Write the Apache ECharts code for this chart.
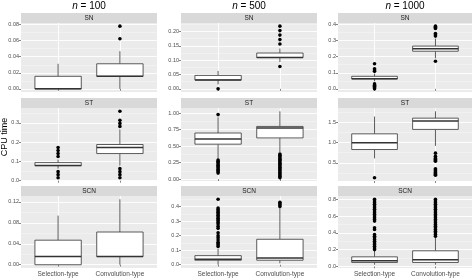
<!DOCTYPE html>
<html>
<head>
<meta charset="utf-8">
<script src="https://cdn.jsdelivr.net/npm/echarts@6/dist/echarts.min.js"></script>
<style>
  html, body { margin: 0; padding: 0; background: #fff; }
  #chart { width: 474px; height: 278px; }
</style>
</head>
<body>
<div id="chart"></div>
<script>
var methods = ['Selection-type', 'Convolution-type'];
var sizes = ['100', '500', '1000'];
var models = ['SN', 'ST', 'SCN'];

// box stats per panel: [min, q1, median, q3, max] for selection, convolution
var sn100Box = [[0, 0, 0, 0.015625, 0.03125], [0, 0.015625, 0.015625, 0.03125, 0.046875]];
var sn100Out = [[], [0.0625, 0.078125]];
var sn100Ticks = ['0.00', '0.02', '0.04', '0.06', '0.08'];

var sn500Box = [[0.015625, 0.03125, 0.03125, 0.046875, 0.0625], [0.09375, 0.109375, 0.109375, 0.125, 0.140625]];
var sn500Out = [[0], [0.078125, 0.15625, 0.171875, 0.1875, 0.203125, 0.21875]];
var sn500Ticks = ['0.00', '0.05', '0.10', '0.15', '0.20'];

var sn1000Box = [[0.047, 0.0625, 0.0625, 0.078, 0.094], [0.19, 0.234, 0.25, 0.266, 0.3125]];
var sn1000Out = [[0, 0.008, 0.016, 0.023, 0.031, 0.109, 0.117, 0.125, 0.156],
                 [0.172, 0.328, 0.336, 0.344, 0.375, 0.383, 0.39]];
var sn1000Ticks = ['0.0', '0.1', '0.2', '0.3', '0.4'];

var st100Box = [[0.0625, 0.078125, 0.078125, 0.09375, 0.109375], [0.078125, 0.140625, 0.171875, 0.1875, 0.265625]];
var st100Out = [[0.015625, 0.03125, 0.046875, 0.125, 0.140625, 0.15625, 0.171875],
                [0.015625, 0.03125, 0.046875, 0.0625, 0.28125, 0.296875, 0.3125, 0.359375]];
var st100Ticks = ['0.0', '0.1', '0.2', '0.3'];

var st500Box = [[0.31, 0.53, 0.61, 0.70, 0.94], [0.41, 0.625, 0.775, 0.80, 1.03]];
var st500Out = [[0.09, 0.11, 0.13, 0.15, 0.17, 0.19, 0.21, 0.23, 0.25, 0.27, 0.29, 0.98],
                [0.02, 0.04, 0.06, 0.08, 0.10, 0.12, 0.14, 0.16, 0.18, 0.20, 0.22, 0.24, 0.26, 0.28, 0.30, 0.32, 0.34, 0.36, 0.38]];
var st500Ticks = ['0.00', '0.25', '0.50', '0.75', '1.00'];

var st1000Box = [[0.61, 0.83, 1.0, 1.22, 1.65], [0.92, 1.33, 1.54, 1.61, 1.78]];
var st1000Out = [[0.13],
                 [0.19, 0.21, 0.23, 0.25, 0.27, 0.30, 0.33, 0.35, 0.54, 0.56, 0.58, 0.60, 0.62, 0.66, 0.74]];
var st1000Ticks = ['0.5', '1.0', '1.5'];

var scn100Box = [[0, 0, 0.015625, 0.046875, 0.09375], [0, 0.015625, 0.015625, 0.0625, 0.125]];
var scn100Out = [[], []];
var scn100Ticks = ['0.00', '0.04', '0.08', '0.12'];

var scn500Box = [[0, 0.031, 0.0375, 0.0625, 0.11], [0.01, 0.031, 0.047, 0.175, 0.39]];
var scn500Out = [[0.125, 0.135, 0.145, 0.155, 0.17, 0.185, 0.20, 0.22, 0.25, 0.265, 0.28, 0.29, 0.30, 0.31, 0.32,
                  0.33, 0.34, 0.35, 0.36, 0.37, 0.38, 0.39, 0.45],
                 [0.40, 0.41, 0.42, 0.43]];
var scn500Ticks = ['0.0', '0.1', '0.2', '0.3', '0.4'];

var scn1000Box = [[0.02, 0.047, 0.067, 0.114, 0.19], [0.02, 0.047, 0.079, 0.186, 0.345]];
var scn1000Out = [[0.20, 0.22, 0.24, 0.26, 0.28, 0.30, 0.32, 0.34, 0.36, 0.38, 0.44, 0.46, 0.54, 0.56, 0.58,
                   0.60, 0.62, 0.64, 0.66, 0.68, 0.70, 0.72, 0.74, 0.76, 0.78, 0.80],
                  [0.36, 0.38, 0.40, 0.42, 0.44, 0.46, 0.48, 0.50, 0.52, 0.54, 0.56, 0.58, 0.60, 0.62, 0.64,
                   0.66, 0.68, 0.70, 0.72, 0.74, 0.76, 0.78, 0.80]];
var scn1000Ticks = ['0.0', '0.2', '0.4', '0.6', '0.8'];

var panels = [
  [sn100Box, sn100Out, sn100Ticks], [sn500Box, sn500Out, sn500Ticks], [sn1000Box, sn1000Out, sn1000Ticks],
  [st100Box, st100Out, st100Ticks], [st500Box, st500Out, st500Ticks], [st1000Box, st1000Out, st1000Ticks],
  [scn100Box, scn100Out, scn100Ticks], [scn500Box, scn500Out, scn500Ticks], [scn1000Box, scn1000Out, scn1000Ticks]
];

// layout
var colLeft = [21, 181, 338];
var colWidth = [136, 136, 134];
var stripTop = [13, 98, 186];
var plotHeight = [69, 73, 73];
var stripH = 10;
var FONT = 'Liberation Sans, Arial, sans-serif';

function renderBox(params, api) {
  var x = api.value(0);
  var lo = api.coord([x, api.value(1)]);
  var q1 = api.coord([x, api.value(2)]);
  var md = api.coord([x, api.value(3)]);
  var q3 = api.coord([x, api.value(4)]);
  var hi = api.coord([x, api.value(5)]);
  var hw = api.size([0.75, 0])[0] / 2;
  var st = { stroke: '#333333', lineWidth: 0.8 };
  return {
    type: 'group',
    children: [
      { type: 'line', shape: { x1: lo[0], y1: lo[1], x2: q1[0], y2: q1[1] }, style: st },
      { type: 'line', shape: { x1: q3[0], y1: q3[1], x2: hi[0], y2: hi[1] }, style: st },
      { type: 'rect', shape: { x: q1[0] - hw, y: q3[1], width: 2 * hw, height: q1[1] - q3[1] },
        style: { fill: '#ffffff', stroke: '#333333', lineWidth: 0.8 } },
      { type: 'line', shape: { x1: md[0] - hw, y1: md[1], x2: md[0] + hw, y2: md[1] },
        style: { stroke: '#333333', lineWidth: 1.5 } }
    ]
  };
}

var option = {
  animation: false,
  textStyle: { fontFamily: FONT },
  grid: [], xAxis: [], yAxis: [], series: [], graphic: []
};

panels.forEach(function (p, i) {
  var r = Math.floor(i / 3), c = i % 3;
  var box = p[0], out = p[1], labels = p[2];
  var ticks = labels.map(parseFloat);
  var step = ticks[1] - ticks[0];
  var minors = [ticks[0] - step / 2];
  ticks.forEach(function (t) { minors.push(t + step / 2); });

  var lo = Infinity, hi = -Infinity;
  box.forEach(function (b, j) {
    lo = Math.min(lo, b[0]); hi = Math.max(hi, b[4]);
    out[j].forEach(function (v) { lo = Math.min(lo, v); hi = Math.max(hi, v); });
  });
  var pad = (hi - lo) * 0.05;

  option.grid.push({
    left: colLeft[c], width: colWidth[c], top: stripTop[r] + stripH, height: plotHeight[r],
    show: true, backgroundColor: '#EBEBEB', borderWidth: 0
  });
  option.xAxis.push({
    gridIndex: i, type: 'value', min: 0.4, max: 2.6,
    axisLine: { show: false },
    axisTick: { show: true, length: 2, customValues: [1, 2], lineStyle: { color: '#333333', width: 0.6 } },
    axisLabel: { show: r === 2, customValues: [1, 2], fontSize: 6.5, color: '#4D4D4D', margin: 3,
      formatter: function (v) { return methods[Math.round(v) - 1]; } },
    splitLine: { show: true, lineStyle: { color: '#ffffff', width: 0.9 } }
  });
  // minor grid axis
  option.yAxis.push({
    gridIndex: i, type: 'value', min: lo - pad, max: hi + pad, position: 'left',
    axisLine: { show: false },
    axisTick: { show: false, customValues: minors },
    axisLabel: { show: false, customValues: minors },
    splitLine: { show: true, lineStyle: { color: '#F7F7F7', width: 0.5 } }
  });
  // major axis
  option.yAxis.push({
    gridIndex: i, type: 'value', min: lo - pad, max: hi + pad, position: 'left',
    axisLine: { show: false },
    axisTick: { show: true, length: 2, customValues: ticks, lineStyle: { color: '#333333', width: 0.6 } },
    axisLabel: { customValues: ticks, fontSize: 5.5, color: '#4D4D4D', margin: 2,
      formatter: function (v) {
        for (var k = 0; k < ticks.length; k++) if (Math.abs(ticks[k] - v) < 1e-9) return labels[k];
        return '';
      } },
    splitLine: { show: true, lineStyle: { color: '#ffffff', width: 0.9 } }
  });

  option.series.push({
    type: 'custom', xAxisIndex: i, yAxisIndex: 2 * i + 1,
    renderItem: renderBox,
    encode: { x: 0, y: [1, 2, 3, 4, 5] },
    data: box.map(function (b, j) { return [j + 1].concat(b); }),
    z: 3
  });
  var pts = [];
  out.forEach(function (vals, j) { vals.forEach(function (v) { pts.push([j + 1, v]); }); });
  option.series.push({
    type: 'scatter', xAxisIndex: i, yAxisIndex: 2 * i + 1,
    symbolSize: 3.6, itemStyle: { color: '#000000', opacity: 1 },
    data: pts, z: 4
  });

  // strip
  option.graphic.push({
    type: 'rect', shape: { x: colLeft[c], y: stripTop[r], width: colWidth[c], height: stripH },
    style: { fill: '#D9D9D9' }, silent: true
  });
  option.graphic.push({
    type: 'text', x: colLeft[c] + colWidth[c] / 2, y: stripTop[r] + stripH / 2 + 0.5,
    style: { text: models[r], fontSize: 6.5, fontFamily: FONT, fill: '#1A1A1A',
      align: 'center', verticalAlign: 'middle' }, silent: true
  });
});

// column titles
sizes.forEach(function (s, c) {
  option.graphic.push({
    type: 'text', x: colLeft[c] + colWidth[c] / 2, y: 6.5,
    style: { text: '{i|n} = ' + s, fontSize: 10, fontFamily: FONT, fill: '#000000',
      align: 'center', verticalAlign: 'middle',
      rich: { i: { fontStyle: 'italic', fontSize: 10, fontFamily: FONT, fill: '#000000' } } },
    silent: true
  });
});

option.graphic.push({
  type: 'text', x: 5, y: 137, rotation: Math.PI / 2,
  style: { text: 'CPU time', fontSize: 9, fontFamily: FONT, fill: '#000000',
    align: 'center', verticalAlign: 'middle' },
  silent: true
});

var chart = echarts.init(document.getElementById('chart'), null, { renderer: 'canvas' });
chart.setOption(option);
window.addEventListener('resize', function () { chart.resize(); });
</script>
</body>
</html>
